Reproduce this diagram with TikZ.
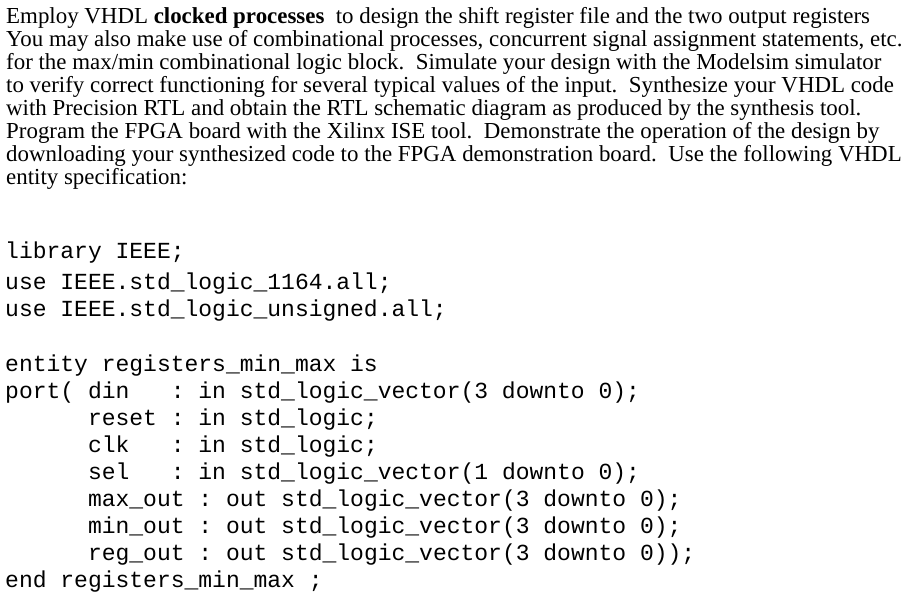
\documentclass[tikz,border=0pt]{standalone}
\usepackage{fontspec}
\setmainfont{Liberation Serif}
\setmonofont{Liberation Mono}
\begin{document}
\begin{tikzpicture}[x=1pt,y=-1pt,
  para/.style={anchor=base west,inner sep=0pt,font=\fontsize{22.9}{24}\selectfont},
  code/.style={anchor=base west,inner sep=0pt,font=\fontsize{23}{26}\ttfamily}]
\useasboundingbox (0,0) rectangle (908,600);
\node[para] (p1) at (6,23) {Employ VHDL \textbf{clocked processes}\ \ to design the shift register file and the two output registers};
\node[para] (p2) at (6,46) {You may also make use of combinational processes, concurrent signal assignment statements, etc.};
\node[para] (p3) at (6,69) {for the max/min combinational logic block.\ \ Simulate your design with the Modelsim simulator};
\node[para] (p4) at (6,92) {to verify correct functioning for several typical values of the input.\ \ Synthesize your VHDL code};
\node[para] (p5) at (6,115) {with Precision RTL and obtain the RTL schematic diagram as produced by the synthesis tool.};
\node[para] (p6) at (6,138) {Program the FPGA board with the Xilinx ISE tool.\ \ Demonstrate the operation of the design by};
\node[para] (p7) at (6,161) {downloading your synthesized code to the FPGA demonstration board.\ \ Use the following VHDL};
\node[para] (p8) at (6,184) {entity specification:};
\node[code] (c1) at (5,258) {library IEEE;};
\node[code] (c2) at (5,289) {use IEEE.std\_logic\_1164.all;};
\node[code] (c3) at (5,316) {use IEEE.std\_logic\_unsigned.all;};
\node[code] (c4) at (5,371) {entity registers\_min\_max is};
\node[code] (c5) at (5,398) {port(\ din\ \ \ :\ in std\_logic\_vector(3 downto 0);};
\node[code] (c6) at (5,425) {\ \ \ \ \ \ reset :\ in std\_logic;};
\node[code] (c7) at (5,452) {\ \ \ \ \ \ clk\ \ \ :\ in std\_logic;};
\node[code] (c8) at (5,479) {\ \ \ \ \ \ sel\ \ \ :\ in std\_logic\_vector(1 downto 0);};
\node[code] (c9) at (5,506) {\ \ \ \ \ \ max\_out :\ out std\_logic\_vector(3 downto 0);};
\node[code] (c10) at (5,533) {\ \ \ \ \ \ min\_out :\ out std\_logic\_vector(3 downto 0);};
\node[code] (c11) at (5,560) {\ \ \ \ \ \ reg\_out :\ out std\_logic\_vector(3 downto 0));};
\node[code] (c12) at (5,587) {end registers\_min\_max ;};
\end{tikzpicture}
\end{document}
